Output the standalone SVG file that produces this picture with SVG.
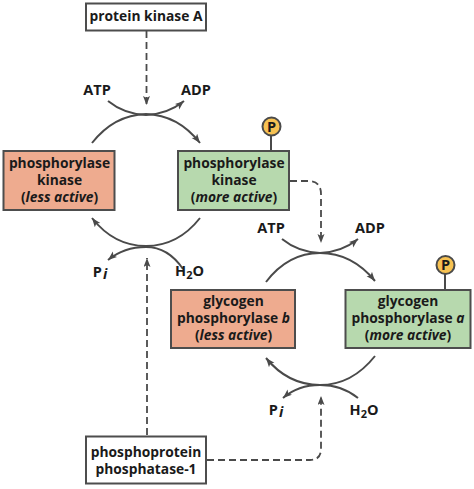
<svg xmlns="http://www.w3.org/2000/svg" width="474" height="489" viewBox="0 0 474 489">
<style>
text{font-family:"Open Sans","Noto Sans","Liberation Sans",sans-serif;font-weight:700;font-size:13.8px;fill:#1a1a1a;text-anchor:middle}
.i{font-style:italic}
.sub{font-size:11px}
.lab{font-size:14.500px}
.box{stroke:#4d4d4d;stroke-width:2}
.w{fill:#fff}.r{fill:#eeab8f}.g{fill:#b7d9ae}
.c{fill:none;stroke:#4a4a4a;stroke-width:2}
.d{fill:none;stroke:#4a4a4a;stroke-width:1.8;stroke-dasharray:7 4}
.p{fill:#f7c252;stroke:#4a4a4a;stroke-width:2}
</style>
<defs>
<marker id="a" markerUnits="userSpaceOnUse" markerWidth="11" markerHeight="8" refX="9" refY="3.500" orient="auto"><path d="M0 0L9 3.500L0 7L2 3.500Z" fill="#4a4a4a"/></marker>
</defs>
<g id="connectors">
<path class="c" d="M92 143Q114 115 146 114Q178 115 200 143" marker-end="url(#a)"/>
<path class="c" d="M108 101Q124 114 146 115Q168 114 184 101" marker-end="url(#a)"/>
<path class="c" d="M200 218Q178 246 146 246Q114 246 92 218" marker-end="url(#a)"/>
<path class="c" d="M183 269Q168 247 146 247Q124 247 108 260" marker-end="url(#a)"/>
<path class="c" d="M266 282Q288 253 320 253Q352 253 375 281" marker-end="url(#a)"/>
<path class="c" d="M282 239Q298 252 320 253Q342 252 358 239" marker-end="url(#a)"/>
<path class="c" d="M375 356Q352 385 320 385Q288 385 266 358" marker-end="url(#a)"/>
<path class="c" d="M358 398Q342 385 320 385Q298 385 283 398" marker-end="url(#a)"/>
<path class="d" d="M146.500 31V105" marker-end="url(#a)"/>
<path class="d" d="M147 435V258" marker-end="url(#a)"/>
<path class="d" d="M290 181H308Q321 181 321 194V243" marker-end="url(#a)"/>
<path class="d" d="M207 460H310Q321 460 321 449V396" marker-end="url(#a)"/>
<path class="c" d="M271 135V151"/>
<path class="c" d="M445 274V290"/>
</g>
<g id="protein-kinase-a"><rect class="box w" x="86" y="3.500" width="120" height="27"/><text x="146" y="20.500">protein kinase A</text></g>
<g id="phosphorylase-kinase-less"><rect class="box r" x="3.500" y="151" width="111" height="59"/><text x="59.500" y="168">phosphorylase</text><text x="59.500" y="185">kinase</text><text x="59.500" y="202">(<tspan class="i">less active</tspan>)</text></g>
<g id="phosphorylase-kinase-more"><rect class="box g" x="178" y="151" width="111" height="59"/><text x="234" y="168">phosphorylase</text><text x="234" y="185">kinase</text><text x="234" y="202">(<tspan class="i">more active</tspan>)</text></g>
<g id="p1"><circle class="p" cx="271.500" cy="126.500" r="9"/><text x="271.500" y="131.500" class="lab">P</text></g>
<g id="glycogen-phosphorylase-b"><rect class="box r" x="171" y="290" width="124" height="58"/><text x="233.500" y="306">glycogen</text><text x="233.500" y="323">phosphorylase <tspan class="i">b</tspan></text><text x="233.500" y="340">(<tspan class="i">less active</tspan>)</text></g>
<g id="glycogen-phosphorylase-a"><rect class="box g" x="345.500" y="290" width="125" height="58"/><text x="408" y="306">glycogen</text><text x="408" y="323">phosphorylase <tspan class="i">a</tspan></text><text x="408" y="340">(<tspan class="i">more active</tspan>)</text></g>
<g id="p2"><circle class="p" cx="445.500" cy="265" r="9"/><text x="445.500" y="270" class="lab">P</text></g>
<g id="phosphoprotein-phosphatase-1"><rect class="box w" x="86" y="436.500" width="120" height="47"/><text x="146" y="457">phosphoprotein</text><text x="146" y="474">phosphatase-1</text></g>
<g id="labels">
<text x="97" y="94.500" class="lab">ATP</text><text x="196" y="94.500" class="lab">ADP</text>
<text x="271" y="233" class="lab">ATP</text><text x="370" y="233" class="lab">ADP</text>
<text x="100" y="277" class="lab">P<tspan class="i" dx="1" dy="2">i</tspan></text>
<text x="189.500" y="276" class="lab">H<tspan class="sub" dy="3">2</tspan><tspan dy="-3">O</tspan></text>
<text x="276" y="415" class="lab">P<tspan class="i" dx="1" dy="2">i</tspan></text>
<text x="364" y="415" class="lab">H<tspan class="sub" dy="3">2</tspan><tspan dy="-3">O</tspan></text>
</g>
</svg>
